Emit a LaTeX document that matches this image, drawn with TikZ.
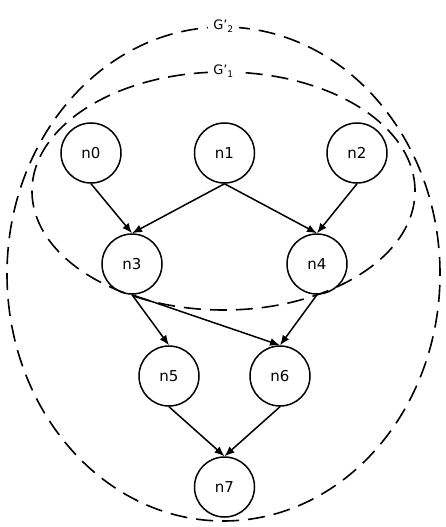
\documentclass[tikz,border=0pt]{standalone}
\usepackage{fontspec}
\setmainfont{DejaVu Sans}
\usetikzlibrary{shapes.geometric,arrows.meta}
\begin{document}
\begin{tikzpicture}[x=1pt,y=-1pt,
  vert/.style={circle,draw,line width=1.5pt,minimum size=60pt,inner sep=0pt,font=\fontsize{15}{17}\selectfont},
  edge/.style={line width=1.5pt,-{Latex[length=10pt,width=8pt]}},
  group/.style={ellipse,draw,line width=1.6pt,dash pattern=on 17pt off 9pt,inner sep=0pt},
  glabel/.style={fill=white,inner xsep=5pt,inner ysep=2pt,font=\fontsize{13}{15}\selectfont}]
\useasboundingbox (0,0) rectangle (446,527);
\node[group,minimum width=433pt,minimum height=494pt] (G2) at (223.5,274) {};
\node[group,minimum width=383pt,minimum height=238pt] (G1) at (223.5,191) {};
\node[glabel] (L2) at (G2.north) {G'\textsubscript{2}};
\node[glabel] (L1) at (G1.north) {G'\textsubscript{1}};
\node[vert] (n0) at (91,153) {n0};
\node[vert] (n1) at (224.5,153) {n1};
\node[vert] (n2) at (357,153) {n2};
\node[vert] (n3) at (132,264) {n3};
\node[vert] (n4) at (317,264) {n4};
\node[vert] (n5) at (169,376) {n5};
\node[vert] (n6) at (280,376) {n6};
\node[vert] (n7) at (224.5,487) {n7};
\draw[edge] (n0.south) -- (n3.north);
\draw[edge] (n1.south) -- (n3.north);
\draw[edge] (n1.south) -- (n4.north);
\draw[edge] (n2.south) -- (n4.north);
\draw[edge] (n3.south) -- (n5.north);
\draw[edge] (n3.south) -- (n6.north);
\draw[edge] (n4.south) -- (n6.north);
\draw[edge] (n5.south) -- (n7.north);
\draw[edge] (n6.south) -- (n7.north);
\end{tikzpicture}
\end{document}
